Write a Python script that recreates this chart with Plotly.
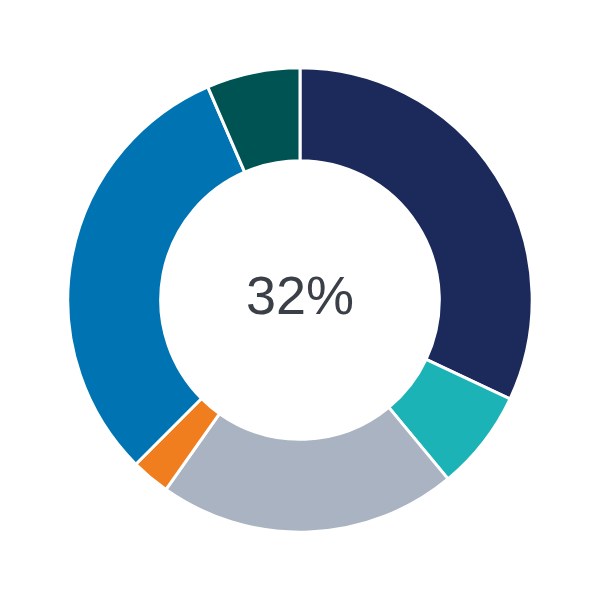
import plotly.graph_objects as go

labels = ["A", "B", "C", "D", "E", "F"]
values = [32, 7, 20.8, 2.7, 31, 6.5]
colors = ["#1b2a5a", "#1bb3b5", "#a9b3c1", "#f07e1e", "#0074b3", "#005353"]
center_text = "32%"

# page body has an 8px margin, so shift the donut up/left to centre it in the window
shift = 8 / 600

fig = go.Figure(go.Pie(
    labels=labels,
    values=values,
    hole=0.6,
    sort=False,
    direction="clockwise",
    rotation=0,
    marker=dict(colors=colors, line=dict(color="white", width=3)),
    textinfo="none",
    hoverinfo="label+percent",
    domain=dict(x=[0.113 - shift, 0.887 - shift], y=[0.113 + shift, 0.887 + shift]),
))

fig.add_annotation(
    text=center_text, x=0.5 - shift, y=0.508 + shift, xref="paper", yref="paper",
    showarrow=False, font=dict(family="Liberation Sans, Arial", size=54, color="#3a3f48"),
)

fig.update_layout(
    width=600, height=600,
    margin=dict(l=0, r=0, t=0, b=0),
    showlegend=False,
    paper_bgcolor="white",
)

fig.write_html("out.html")
